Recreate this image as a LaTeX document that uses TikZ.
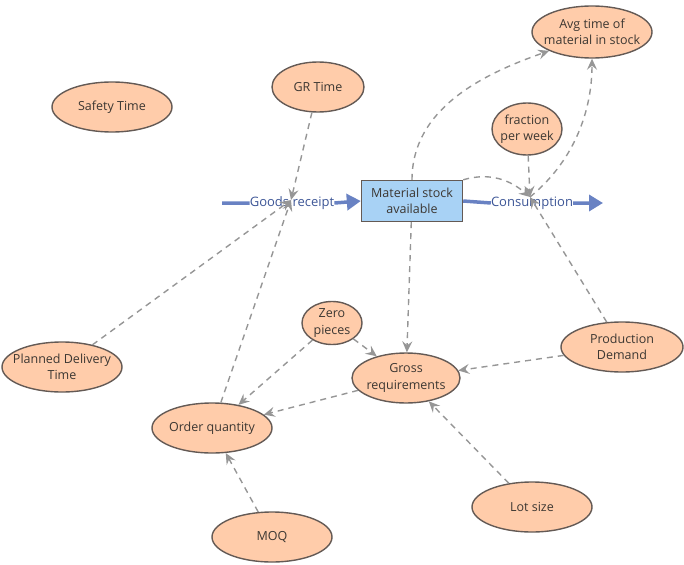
\documentclass[tikz,border=0pt]{standalone}
\usepackage{fontspec}
\setmainfont{Open Sans}
\usetikzlibrary{shapes.geometric,arrows.meta}
\definecolor{peach}{RGB}{255,204,170}
\definecolor{edgegray}{RGB}{100,90,85}
\definecolor{linkgray}{RGB}{150,150,150}
\definecolor{flowblue}{RGB}{105,130,195}
\definecolor{flowtext}{RGB}{60,85,150}
\definecolor{stockblue}{RGB}{168,210,245}
\definecolor{txt}{RGB}{60,55,50}
\begin{document}
\begin{tikzpicture}[x=1pt,y=-1pt,
  auxtext/.style={font=\fontsize{12.5}{16.5}\selectfont,text=txt,align=center,inner sep=0pt},
  aux/.style={ellipse,draw=edgegray,line width=1.4pt,fill=peach,inner sep=0pt,
    label={[auxtext]center:#1}},
  stockbox/.style={rectangle,draw=edgegray,line width=1.4pt,fill=stockblue,
    minimum width=101pt,minimum height=41pt,inner sep=0pt,align=center,font=\fontsize{12.5}{16.5}\selectfont,text=txt},
  flowlabel/.style={font=\fontsize{13}{15}\selectfont,text=flowtext,inner sep=0pt},
  link/.style={draw=linkgray,line width=1.4pt,dash pattern=on 6pt off 5pt,
    -{Stealth[length=11pt,width=10pt,inset=4pt,fill=linkgray]}},
  flow/.style={draw=flowblue,line width=3.5pt,-{Triangle[length=14pt,width=16pt]}}]
\useasboundingbox (0,0) rectangle (684,564);
\node[aux={Safety Time},minimum width=120pt,minimum height=50pt] (safety) at (112,107) {};
\node[aux={GR Time},minimum width=92pt,minimum height=50pt] (grtime) at (318,87) {};
\node[aux={Avg time of\\material in stock},minimum width=120pt,minimum height=52pt] (avg) at (592,32) {};
\node[aux={fraction\\per week},minimum width=70pt,minimum height=52pt] (frac) at (527,129) {};
\node[stockbox] (stock) at (412,201) {Material stock\\available};
\node[flowlabel] (gr) at (292,203) {Goods receipt};
\node[flowlabel] (cons) at (532,203) {Consumption};
\coordinate (src) at (222,203);
\coordinate (snk) at (603,203);
\node[aux={Planned Delivery\\Time},minimum width=120pt,minimum height=50pt] (pdt) at (62,367) {};
\node[aux={Zero\\pieces},minimum width=60pt,minimum height=43pt] (zero) at (332,323) {};
\node[aux={Gross\\requirements},minimum width=108pt,minimum height=50pt] (gross) at (406,378) {};
\node[aux={Production\\Demand},minimum width=122pt,minimum height=50pt] (prod) at (622,347) {};
\node[aux={Order quantity},minimum width=120pt,minimum height=50pt] (oq) at (212,428) {};
\node[aux={MOQ},minimum width=120pt,minimum height=50pt] (moq) at (272,537) {};
\node[aux={Lot size},minimum width=120pt,minimum height=50pt] (lot) at (532,507) {};
% flows
\draw[flow] (src) -- (gr.west) (gr.east) -- (stock.west);
\draw[flow] (stock.east) -- (cons.west) (cons.east) -- (snk);
% links
\coordinate (grv) at (291,200);
\coordinate (cv) at (530,197);
\draw[link] (grtime) -- (grv);
\draw[link] (pdt) -- (grv);
\draw[link] (oq) -- (grv);
\draw[link] (stock.north) .. controls (412,110) and (480,75) .. (avg.south west);
\draw[link] (cv) .. controls (575,160) and (592,110) .. (avg.south);
\draw[link] (frac) -- (cv);
\draw[link] (stock.north east) .. controls (490,172) and (510,180) .. (cv);
\draw[link] (prod) -- (cv);
\draw[link] (stock) -- (gross);
\draw[link] (zero) -- (gross);
\draw[link] (zero) -- (oq);
\draw[link] (prod) -- (gross);
\draw[link] (gross) -- (oq);
\draw[link] (lot) -- (gross);
\draw[link] (moq) -- (oq);
\end{tikzpicture}
\end{document}
